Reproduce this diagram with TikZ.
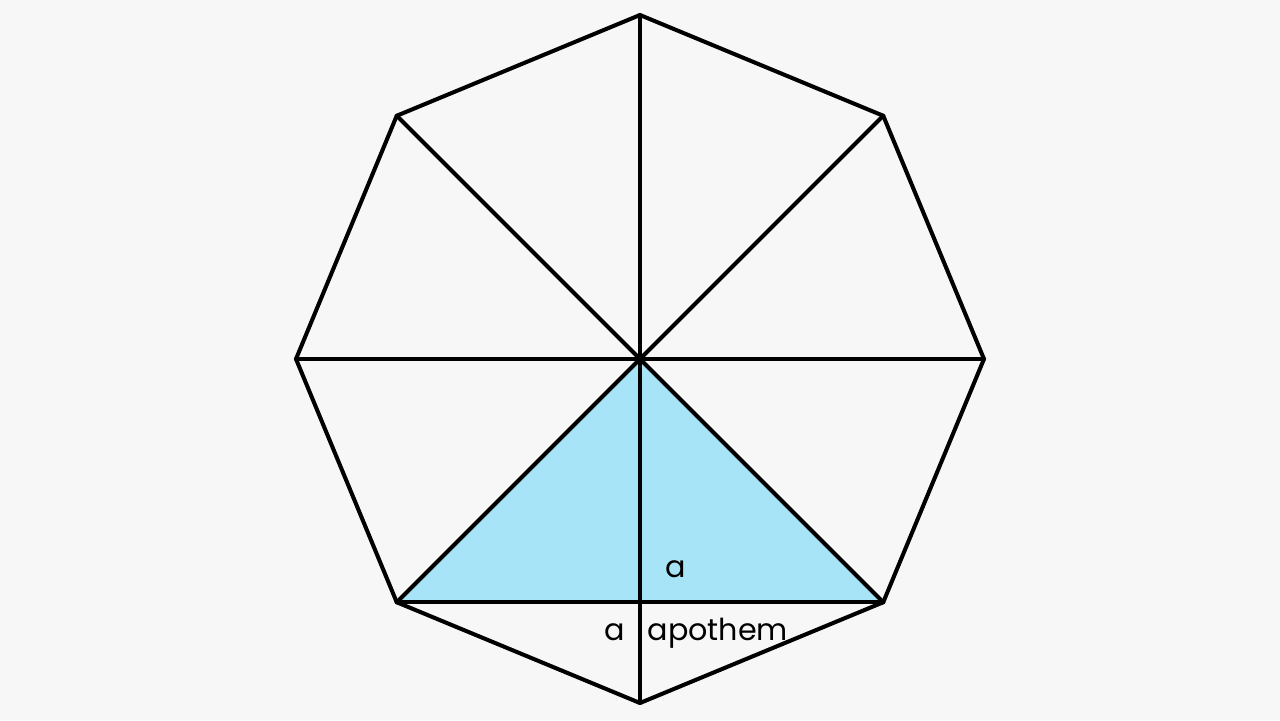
\documentclass[tikz,border=0pt]{standalone}
\usepackage{fontspec}
\setmainfont{Poppins}
\usepackage{tikz}
\usetikzlibrary{positioning, calc}
\definecolor{paper}{RGB}{247,247,247}
\definecolor{wedge}{RGB}{168,228,247}

\begin{document}
\begin{tikzpicture}[x=0.1mm, y=0.1mm,
    edge/.style={black, line width=1.15pt, line join=round, line cap=round},
    lbl/.style={anchor=base west, inner sep=0pt, font=\fontsize{8.6}{10}\selectfont}]
    \def\radius{344}

    % background
    \fill[paper] (-640,-361) rectangle (640,359);
    \useasboundingbox (-640,-361) rectangle (640,359);

    % corners
    \coordinate (O) at (0,0);
    \foreach \i in {0,...,7}
    {
        \coordinate (V\i) at (\i*45:\radius);
    }

    % shaded triangle
    \fill[wedge] (O) -- (V5) -- (V7) -- cycle;

    % spokes
    \foreach \start/\end in {
        V0/V4,
        V1/V5,
        V2/V6,
        V3/V7}
    {
        \draw[edge] (\start) -- (\end);
    }

    % base of the triangle
    \draw[edge] (V5) -- (V7);

    % outline
    \draw[edge] (V0) -- (V1) -- (V2) -- (V3) -- (V4) -- (V5) -- (V6) -- (V7) -- cycle;

    % labels
    \node[lbl] (inner) at (25,-218) {a};
    \node[lbl] (side) at (-36,-281) {a};
    \node[lbl] (apothem) at (7,-281) {apothem};
\end{tikzpicture}
\end{document}
